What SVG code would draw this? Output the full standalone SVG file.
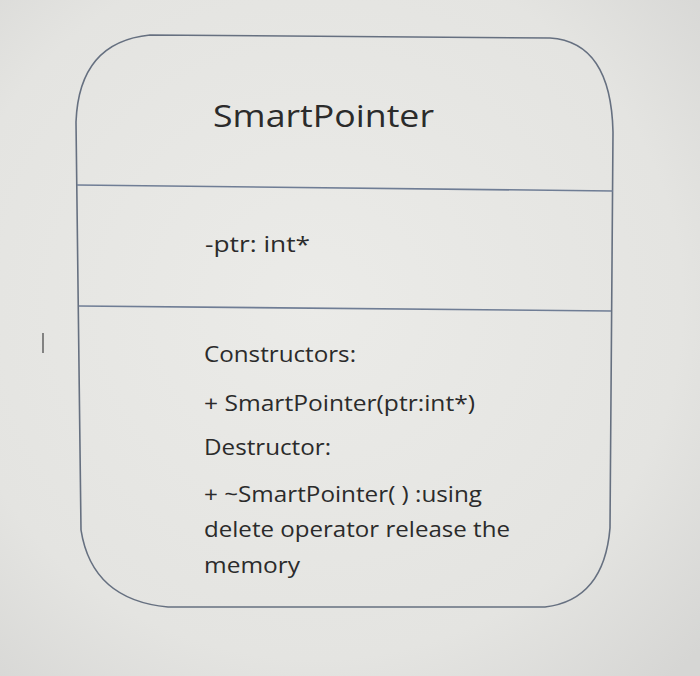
<svg xmlns="http://www.w3.org/2000/svg" width="700" height="676" viewBox="0 0 700 676">
  <defs>
    <radialGradient id="bg" cx="0.45" cy="0.45" r="0.75">
      <stop offset="0" stop-color="#ebebe8"/>
      <stop offset="0.7" stop-color="#e4e4e1"/>
      <stop offset="1" stop-color="#d6d6d4"/>
    </radialGradient>
    <style>
      .edge { fill: none; stroke: #667080; stroke-width: 1.6; }
      .div { fill: none; stroke: #6f7d95; stroke-width: 1.6; }
      .t { font-family: "Open Sans", "Liberation Sans", sans-serif; fill: #2b2b2b; }
      .title { font-size: 31px; }
      .body { font-size: 22px; }
    </style>
  </defs>
  <rect x="0" y="0" width="700" height="676" fill="url(#bg)"/>
  <line x1="43" y1="333" x2="43" y2="353" stroke="#6a6a6a" stroke-width="1.6"/>
  <g id="SmartPointer">
    <path class="edge" d="M 150 35 L 550 38 Q 611 42 613 132 L 610 528 Q 604 600 545 607 L 168 607 Q 92 600 81 530 L 76 122 Q 79 42 150 35 Z"/>
    <line class="div" x1="77" y1="185" x2="613" y2="191"/>
    <line class="div" x1="79" y1="306" x2="611" y2="311"/>
    <text class="t title" x="213" y="127" textLength="221" lengthAdjust="spacingAndGlyphs">SmartPointer</text>
    <text class="t body" x="205" y="252" textLength="105" lengthAdjust="spacingAndGlyphs">-ptr: int*</text>
    <text class="t body" x="204" y="362" textLength="152" lengthAdjust="spacingAndGlyphs">Constructors:</text>
    <text class="t body" x="204" y="411" textLength="271" lengthAdjust="spacingAndGlyphs">+ SmartPointer(ptr:int*)</text>
    <text class="t body" x="204" y="455" textLength="127" lengthAdjust="spacingAndGlyphs">Destructor:</text>
    <text class="t body" x="204" y="502" textLength="278" lengthAdjust="spacingAndGlyphs">+ ~SmartPointer( ) :using</text>
    <text class="t body" x="204" y="537" textLength="306" lengthAdjust="spacingAndGlyphs">delete operator release the</text>
    <text class="t body" x="204" y="573" textLength="96" lengthAdjust="spacingAndGlyphs">memory</text>
  </g>
</svg>
